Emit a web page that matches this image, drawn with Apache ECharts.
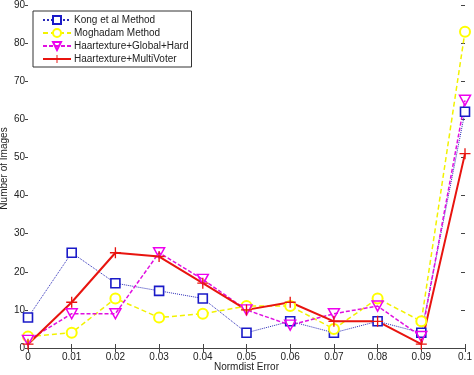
<!DOCTYPE html>
<html lang="en">
<head>
  <meta charset="UTF-8">
  <title>Normdist Error</title>
  <script src="https://cdn.jsdelivr.net/npm/echarts@6/dist/echarts.min.js"></script>
</head>
<body style="margin:0">
  <div id="main" style="width:474px;height:375px"></div>
  <script>
    // x categories (normdist error) and the four methods
    var xLabels = ['0', '0.01', '0.02', '0.03', '0.04', '0.05', '0.06', '0.07', '0.08', '0.09', '0.1']
    var kong = [8, 25, 17, 15, 13, 4, 7, 4, 7, 4, 62]
    var moghadam = [3, 4, 13, 8, 9, 11, 11, 5, 13, 7, 83]
    var haarGlobal = [2, 9, 9, 25, 18, 10, 6, 9, 11, 3, 65]
    var multiVoter = [1, 12, 25, 24, 17, 10, 12, 7, 7, 1, 51]

    var font = 'Liberation Sans'
    var tri = 'path://M0,0L10,0L5,9Z'
    var plus = 'path://M4.4,0H5.6V4.4H10V5.6H5.6V10H4.4V5.6H0V4.4H4.4Z'

    var mCharts = echarts.init(document.getElementById('main'))
    var option = {
      animation: false,
      backgroundColor: '#fff',
      grid: { left: 28, right: 9, top: 5, bottom: 27, outerBoundsMode: 'none', containLabel: false },
      legend: {
        orient: 'vertical',
        left: 33, top: 11,
        padding: [4, 3, 3, 9],
        itemGap: 3,
        itemWidth: 28, itemHeight: 10,
        backgroundColor: '#fff',
        borderColor: '#333', borderWidth: 1,
        textStyle: { fontFamily: font, fontSize: 10, color: '#222', padding: [0, 0, 0, -2] },
        data: ['Kong et al Method', 'Moghadam Method', 'Haartexture+Global+Hard', 'Haartexture+MultiVoter']
      },
      xAxis: [{
        type: 'category', data: xLabels, boundaryGap: false,
        name: 'Normdist Error', nameLocation: 'middle', nameGap: 14, nameMoveOverlap: false,
        nameTextStyle: { fontFamily: font, fontSize: 10, color: '#222' },
        axisLine: { show: false },
        axisTick: { inside: true, length: 4, lineStyle: { color: '#444' } },
        axisLabel: { fontFamily: font, fontSize: 10, color: '#222', margin: 4 },
        splitLine: { show: false }
      }, {
        type: 'category', data: xLabels, boundaryGap: false, position: 'top',
        axisLine: { show: true, lineStyle: { color: '#444', width: 1 } },
        axisTick: { inside: true, length: 4, lineStyle: { color: '#444' } },
        axisLabel: { show: false }
      }],
      yAxis: [{
        type: 'value', min: 0, max: 90, interval: 10,
        name: 'Number of Images', nameLocation: 'middle', nameGap: 19, nameMoveOverlap: false,
        nameTextStyle: { fontFamily: font, fontSize: 10, color: '#222', padding: [0, 0, 0, 16] },
        axisLine: { show: false },
        axisTick: { show: true, inside: false, length: 3, lineStyle: { color: '#444' } },
        axisLabel: { fontFamily: font, fontSize: 10, color: '#222', margin: 3 },
        splitLine: { show: false }
      }, {
        type: 'value', min: 0, max: 90, interval: 10, position: 'right',
        axisLine: { show: false },
        axisTick: { show: true, inside: true, length: 4, lineStyle: { color: '#444' } },
        axisLabel: { show: false },
        splitLine: { show: false }
      }],
      series: [
        {
          name: 'Kong et al Method', type: 'line', data: kong,
          symbol: 'rect', symbolSize: 9,
          itemStyle: { color: '#fff', borderColor: '#1a1ac8', borderWidth: 1.6 },
          lineStyle: { color: '#2a2ab8', width: 1, type: 'dotted' }
        },
        {
          name: 'Moghadam Method', type: 'line', data: moghadam,
          symbol: 'emptyCircle', symbolSize: 10,
          itemStyle: { color: '#ffff00', borderColor: '#f0f000', borderWidth: 1.5 },
          lineStyle: { color: '#f2f200', width: 1.5, type: [5, 3] }
        },
        {
          name: 'Haartexture+Global+Hard', type: 'line', data: haarGlobal,
          symbol: tri, symbolSize: [11, 10],
          itemStyle: { color: 'rgba(255,255,255,0)', borderColor: '#ee00ee', borderWidth: 1.5 },
          lineStyle: { color: '#e010e0', width: 1.5, type: [4, 2] }
        },
        {
          name: 'Haartexture+MultiVoter', type: 'line', data: multiVoter,
          symbol: plus, symbolSize: 11,
          itemStyle: { color: '#e8140f' },
          lineStyle: { color: '#e8140f', width: 2, type: 'solid' }
        }
      ]
    }
    mCharts.setOption(option)
    window.onresize = function () {
      mCharts.resize()
    }
  </script>
</body>
</html>
